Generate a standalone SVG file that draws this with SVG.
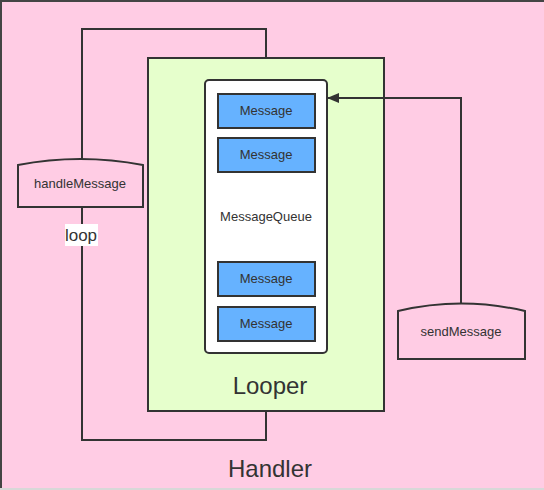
<svg xmlns="http://www.w3.org/2000/svg" width="544" height="490" viewBox="0 0 544 490">
<style>
.ln{fill:none;stroke:#333;stroke-width:2}
.msg{fill:#66b2ff;stroke:#333;stroke-width:2}
.shape{fill:#ffcce4;stroke:#333;stroke-width:2}
text{font-family:"Liberation Sans",Arial,sans-serif;fill:#333;text-anchor:middle}
.s{font-size:13px}
.b{font-size:24px}
</style>
<defs>
<marker id="ah" viewBox="0 0 12 10" refX="11" refY="5" markerWidth="12" markerHeight="10" markerUnits="userSpaceOnUse" orient="auto">
<path d="M0,0 L12,5 L0,10 Z" fill="#333"/>
</marker>
</defs>
<rect x="0" y="0" width="544" height="490" fill="#ffcce4"/>
<path d="M1,490 V1 H544" fill="none" stroke="#444" stroke-width="2"/>
<line x1="0" y1="489" x2="544" y2="489" stroke="#d8d8d8" stroke-width="2"/>
<g id="handler">
<text class="b" x="270" y="477">Handler</text>
</g>
<g id="looper">
<rect x="148" y="58" width="236" height="353" fill="#e6ffcc" stroke="#333" stroke-width="2"/>
<text class="b" x="270" y="394">Looper</text>
</g>
<g id="messagequeue">
<rect x="205" y="80" width="122" height="273" rx="4" fill="#fff" stroke="#333" stroke-width="2"/>
<text class="s" x="266" y="221">MessageQueue</text>
</g>
<g id="message1"><rect class="msg" x="218" y="94" width="97" height="34"/><text class="s" x="266" y="115">Message</text></g>
<g id="message2"><rect class="msg" x="218" y="138" width="97" height="34"/><text class="s" x="266" y="159">Message</text></g>
<g id="message3"><rect class="msg" x="218" y="262" width="97" height="34"/><text class="s" x="266" y="283">Message</text></g>
<g id="message4"><rect class="msg" x="218" y="307" width="97" height="34"/><text class="s" x="266" y="328">Message</text></g>
<g id="connectors">
<path class="ln" d="M266,58 V29 H82 V440 H266 V411"/>
<path class="ln" d="M461,303 V98 H328" marker-end="url(#ah)"/>
</g>
<g id="handleMessage">
<path class="shape" d="M18,165 Q80,153 143,165 V207 H18 Z"/>
<text class="s" x="80" y="188">handleMessage</text>
</g>
<g id="loop-label">
<rect x="65" y="224" width="33" height="22" fill="#fff"/>
<text x="81" y="241" style="font-size:17px">loop</text>
</g>
<g id="sendMessage">
<path class="shape" d="M398,311 Q461,296 525,311 V359 H398 Z"/>
<text class="s" x="461" y="336">sendMessage</text>
</g>
</svg>
